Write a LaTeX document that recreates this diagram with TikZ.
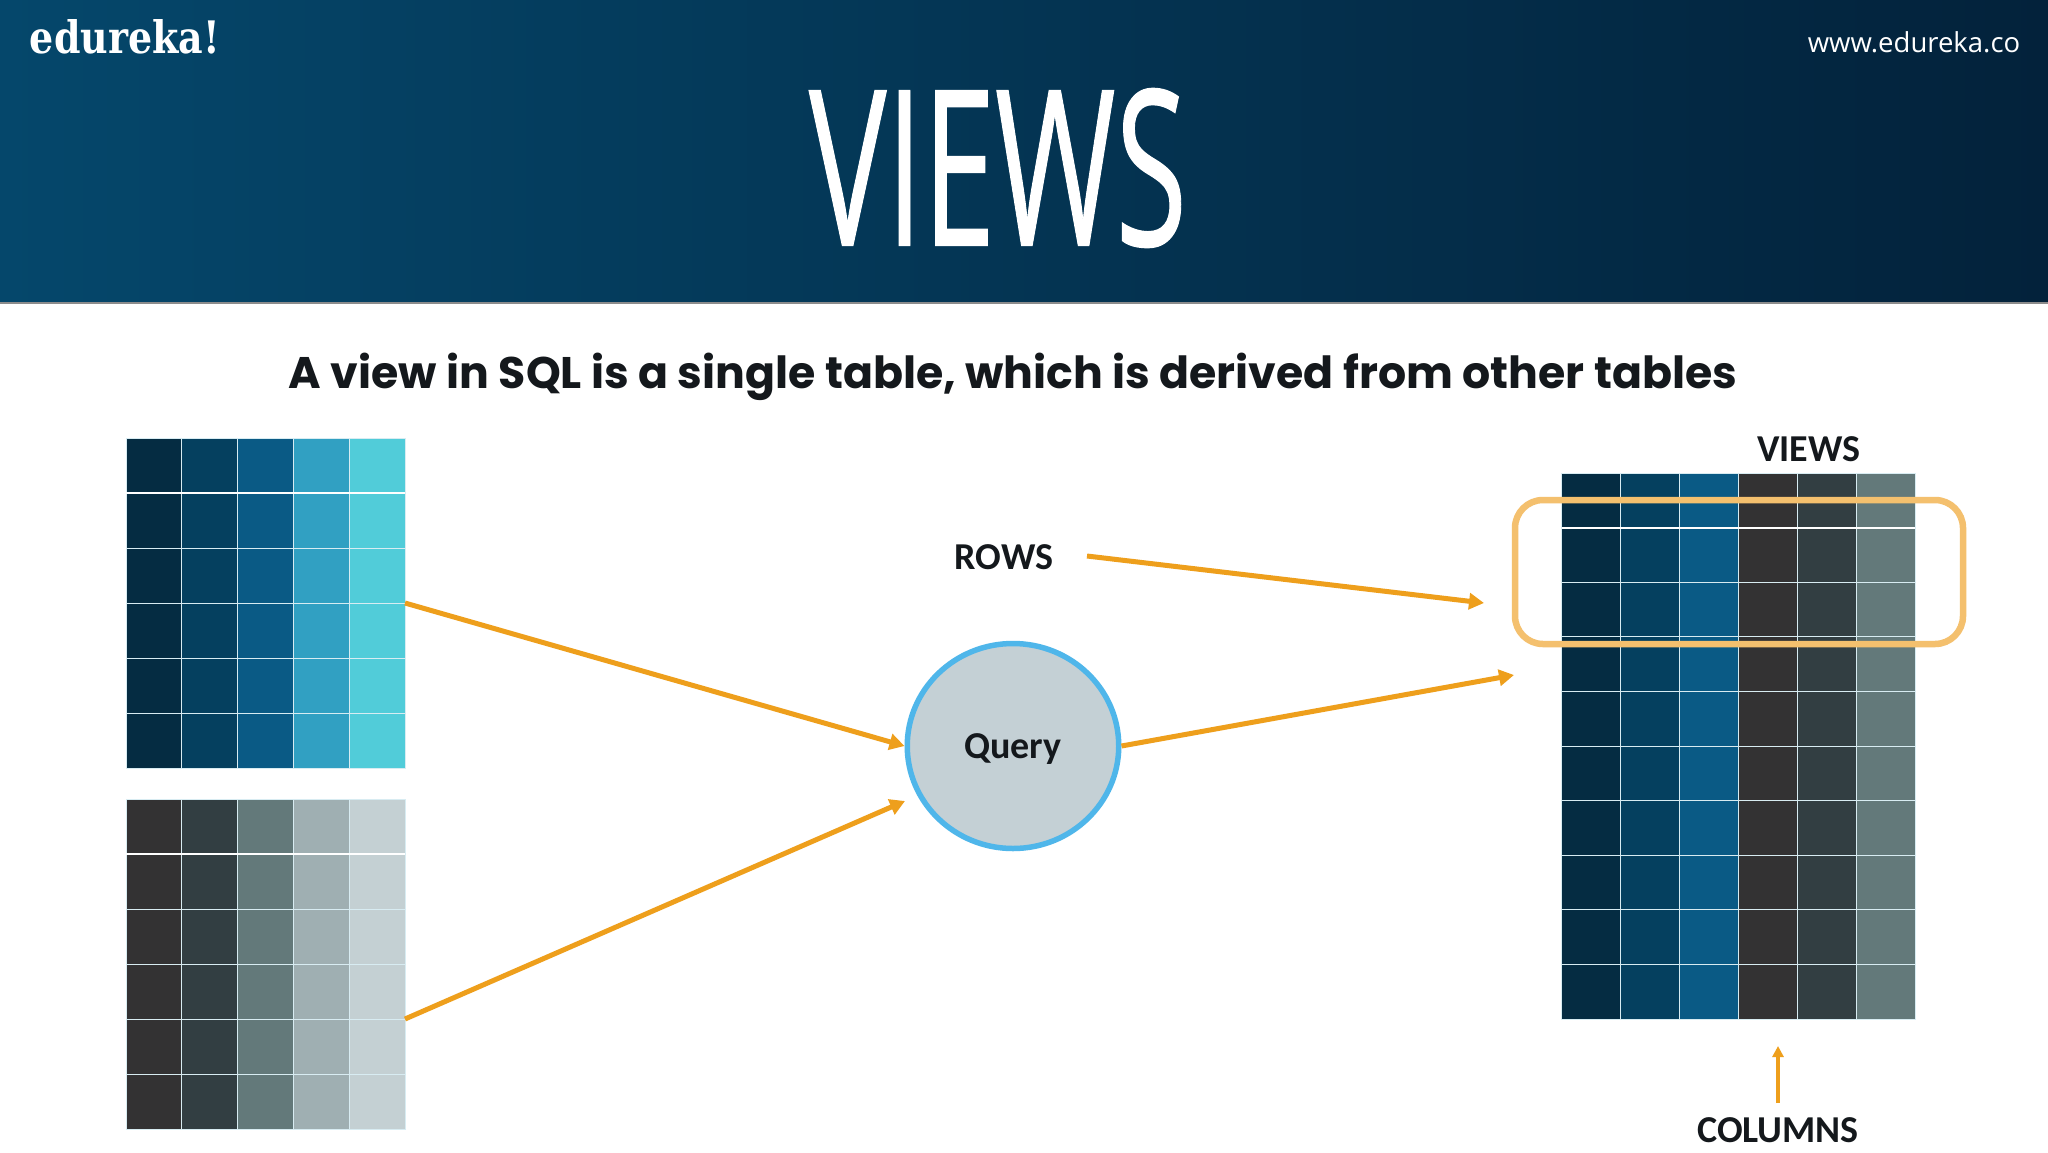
\documentclass[tikz,border=0pt]{standalone}
\usepackage{fontspec}
\usepackage{graphicx}
\usetikzlibrary{arrows.meta,shapes.geometric}
\setmainfont{Carlito}
\newfontfamily\titlefont[FakeBold=0.7]{Open Sans}
\newfontfamily\subfont{Poppins}
\newfontfamily\logofont{DejaVu Serif}
\newfontfamily\urlfont{Open Sans}
\definecolor{cA}{HTML}{052C42}
\definecolor{cB}{HTML}{05405F}
\definecolor{cC}{HTML}{0A5A85}
\definecolor{cD}{HTML}{31A0C2}
\definecolor{cE}{HTML}{51CCD9}
\definecolor{gA}{HTML}{333233}
\definecolor{gB}{HTML}{323E42}
\definecolor{gC}{HTML}{63797A}
\definecolor{gD}{HTML}{9FAFB2}
\definecolor{gE}{HTML}{C4D0D3}
\definecolor{orangeline}{HTML}{EE9F1C}
\definecolor{rowbox}{HTML}{F4C06E}
\definecolor{circlefill}{HTML}{C4D0D5}
\definecolor{circleline}{HTML}{4FB6EA}
\definecolor{ink}{HTML}{14181C}
\definecolor{gridline}{HTML}{D8ECF2}
\definecolor{hL}{HTML}{05476B}
\definecolor{hM}{HTML}{023A5C}
\definecolor{hR}{HTML}{03223B}
\tikzset{
  cell/.style={draw=gridline,line width=1pt},
  link/.style={draw=orangeline,line width=5pt,-{Triangle[length=15pt,width=16pt]}},
  tablebox/.style={inner sep=0pt,outer sep=0pt,draw=none},
  label/.style={font=\bfseries\fontsize{38}{40}\selectfont,text=ink,inner sep=0pt},
}
\begin{document}
\begin{tikzpicture}[x=1pt,y=-1pt]
\useasboundingbox (0,0) rectangle (2048,1152);
\fill[white] (0,0) rectangle (2048,1152);
% header
\shade[left color=hL,middle color=hM,right color=hR] (0,0) rectangle (2048,303);
\draw[color=black!45,line width=1.5pt] (0,303) -- (2048,303);
\node[text=white,inner sep=0pt] (logo) at (125,37) {\resizebox{190pt}{34pt}{\logofont\bfseries edureka!}};
\node[text=white,inner sep=0pt] (url) at (1914,42) {\urlfont\fontsize{27.5}{30}\selectfont www.edureka.co};
\node[text=white,inner sep=0pt] (title) at (998,168) {\resizebox{378pt}{157pt}{\titlefont\fontsize{218}{220}\selectfont VIEWS}};
\node[text=ink,inner sep=0pt] (sub) at (1013,377) {\resizebox{1448pt}{!}{\subfont\bfseries A view in SQL is a single table, which is derived from other tables}};
% table A
\foreach \c [count=\i from 0] in {cA,cB,cC,cD,cE}
  \foreach \j in {0,...,5}
    \filldraw[cell,fill=\c] ({126+55.8*\i},{438+55*\j}) rectangle +(55.8,55);
\draw[white,line width=2.5pt] (126,493) -- (405,493);
% table B
\foreach \c [count=\i from 0] in {gA,gB,gC,gD,gE}
  \foreach \j in {0,...,5}
    \filldraw[cell,fill=\c] ({126+55.8*\i},{799+55*\j}) rectangle +(55.8,55);
\draw[white,line width=2.5pt] (126,854) -- (405,854);
% views table
\foreach \c [count=\i from 0] in {cA,cB,cC,gA,gB,gC}
  \foreach \j in {0,...,9}
    \filldraw[cell,fill=\c] ({1561.5+59*\i},{473+54.6*\j}) rectangle +(59,54.6);
\draw[white,line width=2.5pt] (1562,528) -- (1915,528);
% anchors
\node[tablebox,minimum width=279pt,minimum height=330pt] (tableA) at (265.5,603) {};
\node[tablebox,minimum width=279pt,minimum height=330pt] (tableB) at (265.5,964) {};
\node[tablebox,minimum width=354pt,minimum height=546pt] (tableV) at (1738.5,746) {};
\draw[rowbox,line width=6.5pt,rounded corners=28pt] (1515,500) rectangle (1963,644);
\node[ellipse,draw=circleline,fill=circlefill,line width=5.5pt,minimum width=211.5pt,minimum height=205pt,inner sep=0pt] (query) at (1013,746) {};
\node[label] (querytext) at (1013,749) {Query};
\node[label] (rows) at (1004,557) {ROWS};
\node[label] (views) at (1809,449) {VIEWS};
\node[label] (columns) at (1778,1130) {COLUMNS};
\coordinate (bout) at (405,1019);
\coordinate (qin) at (905,801);
\coordinate (rowsout) at (1087,556);
\coordinate (rowsin) at (1484,603);
\coordinate (viewin) at (1514,675);
\coordinate (colin) at (1778,1046);
\coordinate (colout) at (1778,1103);
\draw[link] (tableA.east) -- (query.west);
\draw[link] (bout) -- (qin);
\draw[link] (query.east) -- (viewin);
\draw[link] (rowsout) -- (rowsin);
\draw[draw=orangeline,line width=3.2pt,-{Triangle[length=11pt,width=11pt]}] (colout) -- (colin);
\end{tikzpicture}
\end{document}
